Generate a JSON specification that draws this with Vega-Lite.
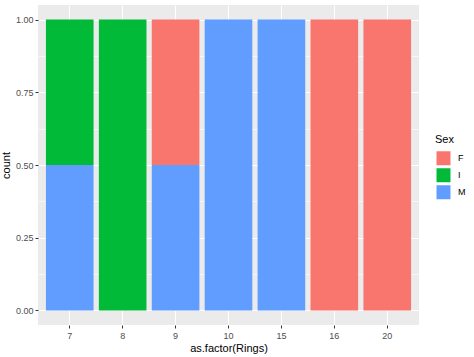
{
  "$schema": "https://vega.github.io/schema/vega-lite/v6.json",
  "width": 381,
  "height": 320,
  "autosize": {"type": "none"},
  "padding": {"left": 38, "top": 5, "right": 55, "bottom": 32},
  "background": "white",
  "config": {
    "view": {"fill": "#EBEBEB", "stroke": null},
    "font": "Liberation Sans",
    "axis": {
      "domain": false,
      "gridColor": "white",
      "tickColor": "#333333",
      "tickSize": 3,
      "labelColor": "#4D4D4D",
      "labelFontSize": 9,
      "labelPadding": 2,
      "titleFontSize": 11,
      "titleFontWeight": "normal",
      "titleColor": "black"
    }
  },
  "data": {
    "values": [
      {"Rings": "7", "Sex": "I", "count": 0.5},
      {"Rings": "7", "Sex": "M", "count": 0.5},
      {"Rings": "8", "Sex": "I", "count": 1},
      {"Rings": "9", "Sex": "F", "count": 0.5},
      {"Rings": "9", "Sex": "M", "count": 0.5},
      {"Rings": "10", "Sex": "M", "count": 1},
      {"Rings": "15", "Sex": "M", "count": 1},
      {"Rings": "16", "Sex": "F", "count": 1},
      {"Rings": "20", "Sex": "F", "count": 1}
    ]
  },
  "mark": {"type": "bar"},
  "encoding": {
    "x": {
      "field": "Rings",
      "type": "ordinal",
      "sort": ["7", "8", "9", "10", "15", "16", "20"],
      "scale": {"paddingInner": 0.1, "paddingOuter": 0.15},
      "axis": {"title": "as.factor(Rings)", "labelAngle": 0, "grid": true, "gridWidth": 1.1, "titlePadding": 2, "labelPadding": 3}
    },
    "y": {
      "field": "count",
      "type": "quantitative",
      "stack": true,
      "scale": {"domain": [-0.05, 1.05], "nice": false, "zero": false},
      "axis": {
        "title": "count",
        "values": [0, 0.125, 0.25, 0.375, 0.5, 0.625, 0.75, 0.875, 1],
        "labelExpr": "datum.value * 4 % 1 === 0 ? format(datum.value, '.2f') : ''",
        "tickOpacity": {"condition": {"test": "datum.value * 4 % 1 === 0", "value": 1}, "value": 0},
        "gridWidth": {"condition": {"test": "datum.value * 4 % 1 === 0", "value": 1.1}, "value": 0.55},
        "titlePadding": 4
      }
    },
    "color": {
      "field": "Sex",
      "type": "nominal",
      "scale": {"domain": ["F", "I", "M"], "range": ["#F8766D", "#00BA38", "#619CFF"]},
      "legend": {
        "orient": "none",
        "legendX": 397,
        "legendY": 129,
        "title": "Sex",
        "titleFontSize": 11,
        "titleFontWeight": "normal",
        "titleColor": "black",
        "titlePadding": 5,
        "symbolType": "square",
        "symbolSize": 240,
        "symbolStrokeColor": "white",
        "symbolStrokeWidth": 1.5,
        "symbolOpacity": 1,
        "labelFontSize": 9,
        "labelColor": "black",
        "labelOffset": 6,
        "rowPadding": 0,
        "clipHeight": 16.5
      }
    },
    "order": {"field": "Sex", "sort": "descending"}
  }
}
